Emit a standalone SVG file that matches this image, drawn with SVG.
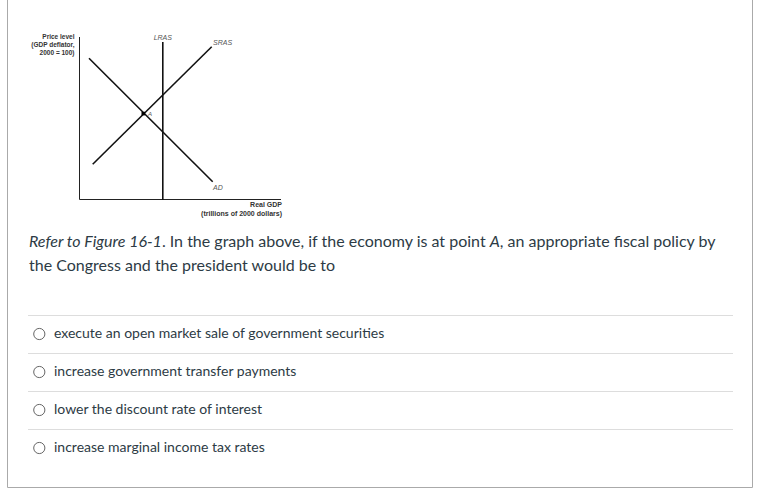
<svg xmlns="http://www.w3.org/2000/svg" width="779" height="499" viewBox="0 0 779 499">
<style>
.ax{stroke:#222;stroke-width:1;fill:none}
.cv{stroke:#111;stroke-width:1.6;fill:none}
.lbl{font-family:"Liberation Sans",Arial,sans-serif;font-size:7px;font-style:italic;fill:#555}
.bl{font-family:"Liberation Sans",Arial,sans-serif;font-size:6.5px;font-weight:bold;fill:#333}
.bl2{font-family:"Liberation Sans",Arial,sans-serif;font-size:7px;font-weight:bold;fill:#333}
.q{font-family:Lato,"Noto Sans",sans-serif;font-size:16px;fill:#2d3b45}
.opt{font-family:Lato,"Noto Sans",sans-serif;font-size:14px;fill:#2d3b45}
.sep{stroke:#ddd;stroke-width:1}
.rad{fill:#fff;stroke:#666;stroke-width:1}
</style>
<rect width="779" height="499" fill="#fff"/>
<path d="M7.5 0 V487.5 H752.5 V0" fill="none" stroke="#aaa" stroke-width="1"/>
<g id="graph">
<g id="axes">
<path class="ax" d="M79.5 37 V199.5 H281"/>
<text class="bl" x="74.5" y="38.5" text-anchor="end">Price level</text>
<text class="bl" x="74.5" y="46.8" text-anchor="end">(GDP deflator,</text>
<text class="bl" x="74.5" y="55" text-anchor="end">2000 = 100)</text>
<text class="bl2" x="282" y="206.5" text-anchor="end">Real GDP</text>
<text class="bl2" x="282" y="216" text-anchor="end">(trillions of 2000 dollars)</text>
</g>
<g id="connectors">
<line class="cv" x1="162.8" y1="42" x2="162.8" y2="200" stroke-width="2"/>
<line class="cv" x1="92.7" y1="164.3" x2="211.7" y2="46.7"/>
<line class="cv" x1="89" y1="58.3" x2="212.7" y2="181.7"/>
</g>
<g id="LRAS"><text class="lbl" x="162.8" y="39.5" text-anchor="middle">LRAS</text></g>
<g id="SRAS"><text class="lbl" x="213" y="45">SRAS</text></g>
<g id="AD"><text class="lbl" x="213" y="190">AD</text></g>
<g id="pointA"><rect x="141.5" y="111.8" width="3.6" height="3.6" fill="#000"/><text class="lbl" x="148" y="116" style="font-size:6px">A</text></g>
</g>
<g id="question">
<text class="q" x="29" y="247"><tspan font-style="italic">Refer to Figure 16-1</tspan>. In the graph above, if the economy is at point <tspan font-style="italic">A</tspan>, an appropriate fiscal policy by</text>
<text class="q" x="29" y="271">the Congress and the president would be to</text>
</g>
<g id="options">
<line class="sep" x1="28" y1="315.5" x2="733" y2="315.5"/>
<line class="sep" x1="28" y1="353.5" x2="733" y2="353.5"/>
<line class="sep" x1="28" y1="391.5" x2="733" y2="391.5"/>
<line class="sep" x1="28" y1="429.5" x2="733" y2="429.5"/>
<g id="opt1"><circle class="rad" cx="39.3" cy="334" r="5.6"/><text class="opt" x="54" y="338">execute an open market sale of government securities</text></g>
<g id="opt2"><circle class="rad" cx="39.3" cy="372" r="5.6"/><text class="opt" x="54" y="376">increase government transfer payments</text></g>
<g id="opt3"><circle class="rad" cx="39.3" cy="410" r="5.6"/><text class="opt" x="54" y="414">lower the discount rate of interest</text></g>
<g id="opt4"><circle class="rad" cx="39.3" cy="448" r="5.6"/><text class="opt" x="54" y="452">increase marginal income tax rates</text></g>
</g>
</svg>
